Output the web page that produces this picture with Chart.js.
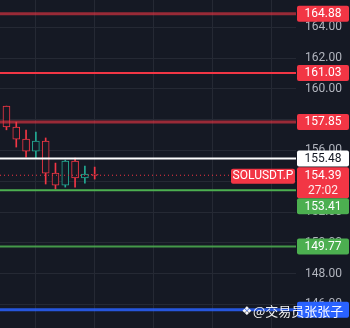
<!DOCTYPE html>
<html lang="zh">
<head>
<meta charset="UTF-8">
<meta name="viewport" content="width=device-width, initial-scale=1.0">
<title>SOLUSDT.P</title>
<script src="https://cdn.jsdelivr.net/npm/chart.js"></script>
<style>
    html, body {
        margin: 0;
        padding: 0;
        background: #151924;
        overflow: hidden;
    }
    #wrap {
        position: relative;
        width: 350px;
        height: 328px;
    }
</style>
</head>
<body>
<div id="wrap"><canvas id="chart"></canvas></div>
<script>
// candles
const candleIdx = [0, 1, 2, 3, 4, 5, 6, 7, 8, 9];
const opens  = [158.88, 157.52, 156.74, 155.96, 156.61, 154.53, 153.75, 155.31, 154.21, 154.45];
const highs  = [158.88, 157.84, 157.32, 157.19, 156.81, 155.18, 155.37, 155.50, 154.99, 154.92];
const lows   = [157.34, 156.22, 155.57, 155.50, 153.82, 153.49, 153.62, 153.62, 153.88, 154.14];
const closes = [157.52, 156.74, 155.96, 156.61, 154.53, 153.75, 155.31, 154.21, 154.47, 154.39];

// horizontal levels
const levelPrices = [164.88, 161.03, 157.85, 155.48, 153.41, 149.77, 145.66];
const levelTexts  = ['164.88', '161.03', '157.85', '155.48', '153.41', '149.77', ''];

const lastPrice = 154.39;
const countdown = '27:02';
const symbol = 'SOLUSDT.P';
const watermark = '@交易员张张子';

// axis ticks
const priceTicks = [146, 148, 150, 152, 154, 156, 158, 160, 162, 164, 166];
const timeGrid = [3, 9, 15, 21, 27];

const bg = '#151924';
const gridColor = '#252934';
const up = '#22ab94';
const down = '#f23645';

const xMin = -0.66, xMax = 29.54;
const yMin = 144.47, yMax = 165.77;

const levelStyle = [
    { line: 'rgba(242,54,69,0.6)', width: 3, box: '#f23645', text: '#ffffff' },
    { line: '#f23645', width: 2, box: '#f23645', text: '#ffffff' },
    { line: 'rgba(242,54,69,0.6)', width: 3, box: '#f23645', text: '#ffffff' },
    { line: '#ffffff', width: 2, box: '#ffffff', text: '#131722' },
    { line: '#4caf50', width: 2, box: '#4caf50', text: '#ffffff' },
    { line: 'rgba(76,175,80,0.85)', width: 2, box: '#4caf50', text: '#ffffff' },
    { line: 'rgba(41,98,255,0.85)', width: 3, box: '#2962ff', text: '#ffffff' }
];

const candleColor = candleIdx.map(i => closes[i] >= opens[i] ? up : down);

const levelSets = levelPrices.map((p, k) => ({
    type: 'line',
    data: [{ x: xMin, y: p }, { x: xMax, y: p }],
    borderColor: levelStyle[k].line,
    borderWidth: levelStyle[k].width,
    pointRadius: 0,
    order: 0
}));

const lastLine = {
    type: 'line',
    data: [{ x: xMin, y: lastPrice }, { x: xMax, y: lastPrice }],
    borderColor: down,
    borderWidth: 1,
    borderDash: [1, 3],
    pointRadius: 0,
    order: 0
};

const wicks = {
    type: 'bar',
    data: candleIdx.map(i => ({ x: i, y: [lows[i], highs[i]] })),
    backgroundColor: candleColor,
    borderWidth: 0,
    barThickness: 1,
    grouped: false,
    order: 2
};

const bodies = {
    type: 'bar',
    data: candleIdx.map(i => ({ x: i, y: [opens[i], closes[i]] })),
    backgroundColor: bg,
    borderColor: candleColor,
    borderWidth: 1,
    borderSkipped: false,
    barThickness: 7,
    minBarLength: 1,
    grouped: false,
    order: 1
};

function box(ctx, x, y, w, h, color) {
    ctx.fillStyle = color;
    ctx.beginPath();
    if (ctx.roundRect) ctx.roundRect(x, y, w, h, 2); else ctx.rect(x, y, w, h);
    ctx.fill();
}

const axisLabels = {
    id: 'axisLabels',
    afterDraw(chart) {
        const { ctx, chartArea, scales } = chart;
        const y = scales.y;
        const left = chartArea.right + 1, w = 52;

        const items = levelPrices.map((p, k) => ({
            py: y.getPixelForValue(p), h: 16, lines: [levelTexts[k]],
            box: levelStyle[k].box, text: levelStyle[k].text
        }));
        items.push({ py: y.getPixelForValue(lastPrice), h: 31, lines: [lastPrice.toFixed(2), countdown], box: down, text: '#ffffff' });
        items.sort((a, b) => a.py - b.py);

        ctx.save();
        ctx.font = '12px Roboto';
        ctx.textAlign = 'center';
        ctx.textBaseline = 'middle';
        let prevBottom = -100;
        items.forEach(it => {
            let top = it.py - 8;
            if (top < prevBottom) top = prevBottom;
            prevBottom = top + it.h;
            box(ctx, left, top, w, it.h, it.box);
            ctx.fillStyle = it.text;
            if (it.lines[0]) ctx.fillText(it.lines[0], left + w / 2, top + 8.5);
            if (it.lines[1]) {
                ctx.fillStyle = 'rgba(255,255,255,0.9)';
                ctx.fillText(it.lines[1], left + w / 2, top + 23.5);
            }
        });

        // symbol tag next to the last price
        const ly = y.getPixelForValue(lastPrice);
        box(ctx, chartArea.right - 65, ly - 6.5, 64, 15, down);
        ctx.font = '12px Roboto';
        ctx.fillStyle = '#ffffff';
        ctx.fillText(symbol, chartArea.right - 33, ly + 1);

        // watermark
        ctx.font = '12px "DejaVu Sans"';
        ctx.fillStyle = 'rgba(255,255,255,0.95)';
        ctx.fillText('❖', 247, 311.5);
        ctx.font = '13px "Noto Sans CJK SC"';
        ctx.textAlign = 'left';
        ctx.fillText(watermark, 253, 311.5);
        ctx.restore();
    }
};

new Chart(document.getElementById('chart'), {
    data: { datasets: [...levelSets, lastLine, bodies, wicks] },
    options: {
        responsive: true,
        maintainAspectRatio: false,
        animation: false,
        layout: { padding: 0 },
        plugins: { legend: { display: false }, tooltip: { enabled: false } },
        scales: {
            x: {
                type: 'linear',
                min: xMin,
                max: xMax,
                offset: false,
                border: { display: false },
                grid: { color: gridColor, drawTicks: false, offset: false },
                ticks: { display: false },
                afterBuildTicks: s => { s.ticks = timeGrid.map(v => ({ value: v })); },
                afterFit: s => { s.height = 0; s.paddingLeft = 0; s.paddingRight = 0; }
            },
            y: {
                type: 'linear',
                position: 'right',
                min: yMin,
                max: yMax,
                border: { display: false },
                grid: { color: gridColor, drawTicks: false },
                ticks: {
                    color: '#b2b5be',
                    font: { family: 'Roboto', size: 12 },
                    padding: 9,
                    autoSkip: false,
                    callback: v => Number(v).toFixed(2)
                },
                afterBuildTicks: s => { s.ticks = priceTicks.map(v => ({ value: v })); },
                afterFit: s => { s.width = 54; s.paddingTop = 0; s.paddingBottom = 0; }
            }
        }
    },
    plugins: [{
        id: 'bgFill',
        beforeDraw(chart) {
            const c = chart.ctx;
            c.save();
            c.fillStyle = bg;
            c.fillRect(0, 0, chart.width, chart.height);
            c.restore();
        }
    }, axisLabels]
});
</script>
</body>
</html>
